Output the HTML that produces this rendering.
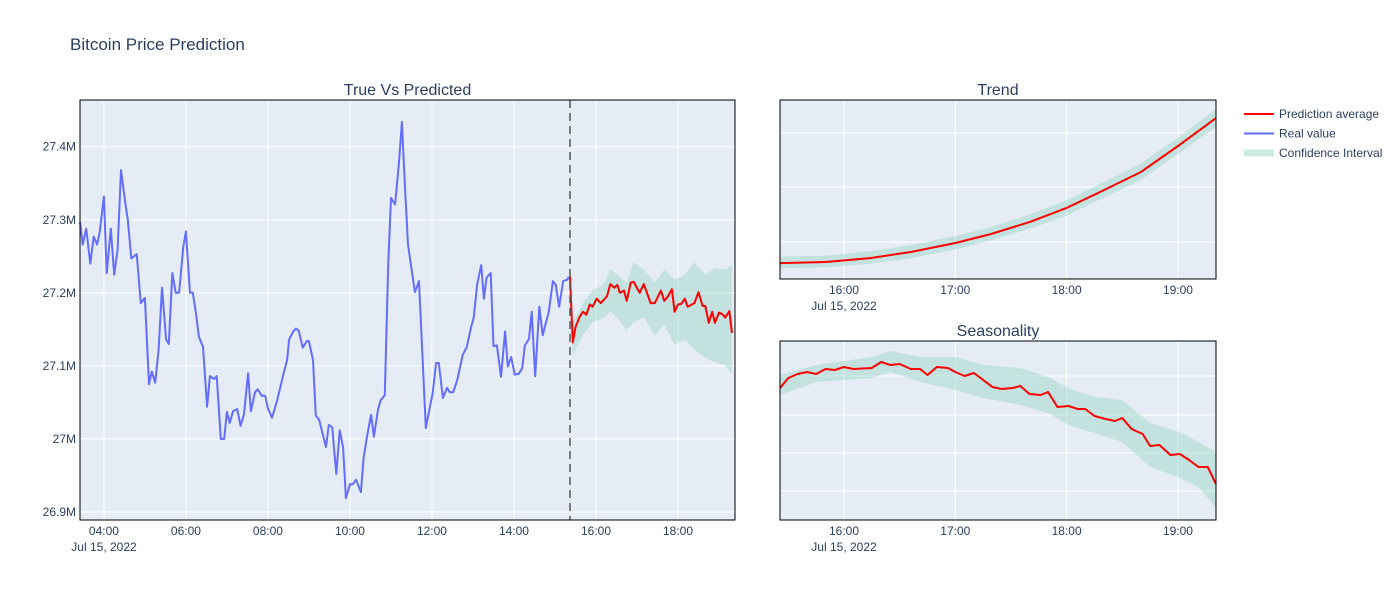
<!DOCTYPE html>
<html><head><meta charset="utf-8"><style>
body{margin:0;background:#fff;}
svg text{font-family:"Liberation Sans",Arial,sans-serif;fill:#2a3f5f;}
</style></head><body>
<svg id="chart" width="1400" height="600" xmlns="http://www.w3.org/2000/svg">
<text x="70" y="50" font-size="17">Bitcoin Price Prediction</text>
</svg>
<script>
// ---- Main chart data (time in minutes since 00:00 Jul 15, 2022; price in millions) ----
const realTimes=[205,209,214,220,225,230,234,240,244,250,255,260,265,271,275,280,288,294,300,306,310,315,320,325,331,335,340,345,350,356,360,366,370,375,379,385,391,395,401,405,411,416,420,424,429,435,440,445,451,455,461,465,471,476,480,486,493,503,508,511,517,521,525,531,537,540,546,550,555,560,565,569,574,580,585,590,594,600,604,609,616,620,625,631,635,641,645,651,656,660,666,672,676,680,685,695,701,711,721,726,730,736,742,746,751,757,765,771,777,781,786,792,796,800,806,810,815,821,827,831,836,841,847,852,856,862,866,871,877,882,891,897,901,906,912,918,920];
const realValues=[27.297,27.266,27.288,27.240,27.277,27.266,27.284,27.332,27.227,27.288,27.225,27.259,27.368,27.325,27.300,27.247,27.253,27.186,27.193,27.075,27.092,27.077,27.122,27.207,27.136,27.130,27.227,27.200,27.200,27.262,27.284,27.200,27.200,27.170,27.140,27.126,27.044,27.086,27.082,27.086,27.000,27.000,27.037,27.022,27.038,27.041,27.018,27.034,27.090,27.038,27.064,27.068,27.059,27.059,27.042,27.029,27.051,27.090,27.108,27.136,27.147,27.151,27.148,27.125,27.134,27.134,27.108,27.032,27.026,27.007,26.989,27.019,27.016,26.952,27.012,26.988,26.919,26.938,26.938,26.944,26.927,26.974,27.003,27.033,27.003,27.040,27.053,27.060,27.238,27.330,27.321,27.382,27.434,27.355,27.266,27.201,27.216,27.015,27.063,27.104,27.104,27.056,27.070,27.064,27.064,27.081,27.115,27.126,27.152,27.166,27.211,27.238,27.192,27.221,27.227,27.127,27.128,27.085,27.147,27.099,27.112,27.088,27.089,27.097,27.128,27.137,27.174,27.086,27.181,27.142,27.174,27.216,27.211,27.181,27.216,27.218,27.222];
const predTimes=[922,926,930,936,941,946,951,955,961,967,971,976,981,987,991,995,1001,1005,1011,1015,1024,1030,1040,1046,1055,1060,1065,1071,1075,1080,1085,1090,1094,1104,1110,1116,1120,1125,1130,1134,1140,1146,1149,1155,1159];
const predValues=[27.222,27.132,27.153,27.167,27.174,27.170,27.184,27.181,27.192,27.186,27.190,27.195,27.212,27.207,27.211,27.200,27.203,27.189,27.214,27.215,27.200,27.212,27.186,27.186,27.203,27.189,27.195,27.205,27.174,27.184,27.185,27.192,27.181,27.186,27.201,27.182,27.182,27.159,27.174,27.159,27.173,27.170,27.166,27.175,27.145];
const bandTimes=[922,926,941,955,971,981,991,1005,1015,1030,1046,1060,1075,1090,1104,1120,1134,1149,1159];
const bandUpper=[27.222,27.160,27.186,27.204,27.211,27.232,27.225,27.214,27.242,27.232,27.214,27.232,27.218,27.225,27.242,27.225,27.234,27.232,27.238];
const bandLower=[27.222,27.115,27.142,27.160,27.166,27.174,27.166,27.149,27.160,27.166,27.142,27.156,27.129,27.136,27.122,27.111,27.105,27.101,27.088];
const mainYTicks=[26.9,27.0,27.1,27.2,27.3,27.4];
const mainYTickLabels=["26.9M","27M","27.1M","27.2M","27.3M","27.4M"];
const mainXTicks=[240,360,480,600,720,840,960,1080];
const mainXTickLabels=["04:00","06:00","08:00","10:00","12:00","14:00","16:00","18:00"];
const forecastStart=922;
// ---- Trend ----
const trendTimes=[925.5,950,974,996,1020,1039,1060,1080,1098,1120,1140,1160.5];
const trendValues=[0.089,0.095,0.117,0.151,0.201,0.251,0.318,0.397,0.486,0.598,0.743,0.899];
const trendUpper=[0.125,0.131,0.155,0.19,0.24,0.29,0.36,0.44,0.53,0.645,0.79,0.95];
const trendLower=[0.06,0.065,0.085,0.115,0.165,0.215,0.28,0.355,0.445,0.555,0.7,0.85];
const trendGrid=[0.207,0.514,0.816];
// ---- Seasonality ----
const seasTimes=[925.5,930,935,940,945,950,955,960,965,975,980,985,990,996,1001,1005,1010,1016,1020,1025,1030,1035,1040,1045,1051,1055,1060,1066,1070,1075,1081,1086,1090,1095,1101,1106,1110,1115,1121,1125,1130,1136,1141,1146,1151,1156,1160.5];
const seasValues=[13.2,14.2,14.6,14.8,14.6,15.1,15.0,15.3,15.1,15.2,15.8,15.5,15.6,15.1,15.1,14.5,15.3,15.2,14.8,14.4,14.7,14.0,13.3,13.1,13.2,13.4,12.6,12.5,12.8,11.3,11.4,11.1,11.1,10.4,10.1,9.9,10.2,9.1,8.6,7.4,7.5,6.5,6.6,6.0,5.3,5.3,3.6];
const seasBandTimes=[925.5,945,975,985,1001,1020,1035,1055,1070,1081,1095,1110,1125,1141,1151,1160.5];
const seasUpper=[14.5,15.5,16.3,16.9,16.3,16.3,15.5,15.2,14.3,13.2,12.3,12.0,9.7,8.8,7.8,6.8];
const seasLower=[12.5,13.8,14.2,14.8,13.8,13.0,12.2,11.5,10.7,9.5,8.7,7.8,5.3,4.2,3.3,1.2];
const seasGrid=[2.9,6.7,10.5,14.4];
const subXTicks=[960,1020,1080,1140];
const subXTickLabels=["16:00","17:00","18:00","19:00"];

const NS="http://www.w3.org/2000/svg";
const svg=document.getElementById('chart');
function el(tag,attrs,parent){const e=document.createElementNS(NS,tag);for(const k in attrs)e.setAttribute(k,attrs[k]);(parent||svg).appendChild(e);return e;}
function scale(d0,d1,r0,r1){return v=>r0+(v-d0)*(r1-r0)/(d1-d0);}
function pathFrom(xs,ys,sx,sy){return xs.map((t,i)=>(i?'L':'M')+sx(t).toFixed(1)+','+sy(ys[i]).toFixed(1)).join('');}
function bandPath(xs,up,lo,sx,sy){let d=pathFrom(xs,up,sx,sy);for(let i=xs.length-1;i>=0;i--)d+='L'+sx(xs[i]).toFixed(1)+','+sy(lo[i]).toFixed(1);return d+'Z';}

function panel(name,x0,y0,x1,y1,title){
  const bg=el('rect',{x:x0,y:y0,width:x1-x0,height:y1-y0,fill:'#e5ecf6'});
  
  
  const t=el('text',{x:(x0+x1)/2,y:y0-5,'font-size':16,'text-anchor':'middle'});
  t.textContent=title;
  
  
}
function frame(name,x0,y0,x1,y1){
  const f=el('rect',{x:x0,y:y0,width:x1-x0,height:y1-y0,fill:'none',stroke:'#000','stroke-width':1});
  
  
}
function xGrid(name,ticks,labels,sx,y0,y1,dateLabel,dateX){
  ticks.forEach((t,i)=>{
    const g=el('line',{x1:sx(t),x2:sx(t),y1:y0,y2:y1,stroke:'#fff','stroke-width':1});
    
    
    const l=el('text',{x:sx(t),y:y1+15,'font-size':12,'text-anchor':'middle'});
    l.textContent=labels[i];
    
    
  });
  const d=el('text',{x:dateX,y:y1+31,'font-size':12,'text-anchor':'middle'});
  d.textContent=dateLabel;
  
  
}
function yGrid(name,ticks,sy,x0,x1){
  ticks.forEach(v=>{
    const g=el('line',{x1:x0,x2:x1,y1:sy(v),y2:sy(v),stroke:'#fff','stroke-width':1});
    
    
  });
}

// Main panel
const mx=scale(205,1163.4,80,735), my=scale(26.889,27.464,520,100);
panel('main',80,100,735,520,'True Vs Predicted');
yGrid('main',mainYTicks,my,80,735);
xGrid('main',mainXTicks,mainXTickLabels,mx,100,520,'Jul 15, 2022',104);
mainYTicks.forEach((v,i)=>{
  const l=el('text',{x:76,y:my(v)+4,'font-size':12,'text-anchor':'end'});
  l.textContent=mainYTickLabels[i];
  
  
});
const mb=el('path',{d:bandPath(bandTimes,bandUpper,bandLower,mx,my),fill:'rgba(128,205,180,0.35)',stroke:'none'});


const rl=el('path',{d:pathFrom(realTimes,realValues,mx,my),fill:'none',stroke:'#636efa','stroke-width':2,'stroke-linejoin':'round'});


const pl=el('path',{d:pathFrom(predTimes,predValues,mx,my),fill:'none',stroke:'#ff0000','stroke-width':2,'stroke-linejoin':'round'});


const dl=el('line',{x1:mx(forecastStart),x2:mx(forecastStart),y1:100,y2:520,stroke:'#555','stroke-width':1.5,'stroke-dasharray':'8,5'});


frame('main',80,100,735,520);

// Trend panel
const tx=scale(925.5,1160.5,780,1216), ty=scale(0,1,279,100);
panel('trend',780,100,1216,279,'Trend');
yGrid('trend',trendGrid,ty,780,1216);
xGrid('trend',subXTicks,subXTickLabels,tx,100,279,'Jul 15, 2022',844);
const tb=el('path',{d:bandPath(trendTimes,trendUpper,trendLower,tx,ty),fill:'rgba(128,205,180,0.35)'});


const tl=el('path',{d:pathFrom(trendTimes,trendValues,tx,ty),fill:'none',stroke:'#ff0000','stroke-width':2});


frame('trend',780,100,1216,279);

// Seasonality panel
const sx2=scale(925.5,1160.5,780,1216), sy2=scale(0,17.9,520,341);
panel('seasonality',780,341,1216,520,'Seasonality');
yGrid('seasonality',seasGrid,sy2,780,1216);
xGrid('seasonality',subXTicks,subXTickLabels,sx2,341,520,'Jul 15, 2022',844);
const sb=el('path',{d:bandPath(seasBandTimes,seasUpper,seasLower,sx2,sy2),fill:'rgba(128,205,180,0.35)'});


const sl=el('path',{d:pathFrom(seasTimes,seasValues,sx2,sy2),fill:'none',stroke:'#ff0000','stroke-width':2,'stroke-linejoin':'round'});


frame('seasonality',780,341,1216,520);

// Legend
const legendItems=[['Prediction average','#ff0000',2],['Real value','#636efa',2],['Confidence Interval','rgba(128,205,180,0.4)',7]];
legendItems.forEach((it,i)=>{
  const y=114+i*19.5;
  const g=el('g',{});
  
  
  el('line',{x1:1244,x2:1274,y1:y,y2:y,stroke:it[1],'stroke-width':it[2]},g);
  const t=el('text',{x:1279,y:y+4,'font-size':12},g);
  t.textContent=it[0];
});
</script>
</body></html>
